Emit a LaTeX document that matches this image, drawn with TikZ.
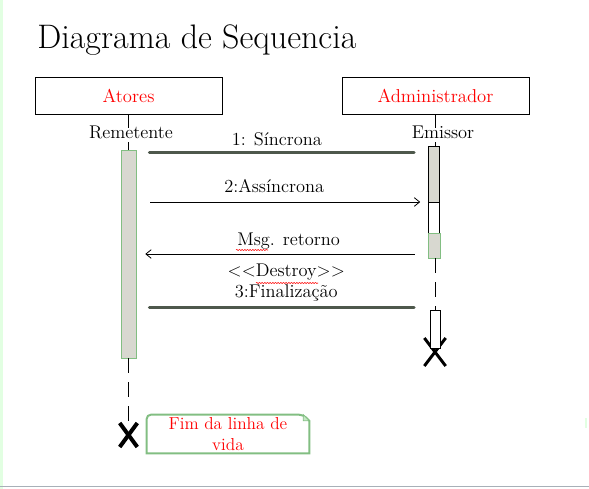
\documentclass[tikz,border=0pt]{standalone}
\usetikzlibrary{arrows.meta}
\usetikzlibrary{decorations.pathmorphing}

\definecolor{cinzaativ}{RGB}{216,216,208}
\definecolor{verdeborda}{RGB}{130,190,130}
\definecolor{linhaforte}{RGB}{78,88,76}
\definecolor{verdeclaro}{RGB}{226,255,226}
\definecolor{verdedobra}{RGB}{196,232,196}
\definecolor{cinzabase}{RGB}{168,176,184}

\begin{document}
\begin{tikzpicture}[>={Straight Barb[length=4pt,width=6.5pt]},x=0.75pt,y=-0.75pt,
    ator/.style={draw,line width=0.6pt,minimum width=140.25pt,minimum height=27.75pt,text=red,font=\fontsize{14}{16}\selectfont},
    rotulo/.style={text=black,font=\fontsize{13.8}{15.5}\selectfont},
    ativ/.style={draw,fill=cinzaativ,inner sep=0pt},
    vazio/.style={draw,fill=white,inner sep=0pt},
    vida/.style={dash pattern=on 10pt off 11pt},
    vidab/.style={dash pattern=on 11pt off 7pt},
    sinc/.style={linhaforte,line width=2.25pt,line cap=round},
    msg/.style={line width=0.6pt},
    ondas/.style={red,line width=0.4pt,decorate,decoration={snake,amplitude=0.45pt,segment length=2pt}}]
    \useasboundingbox (0,0) rectangle (589,489);
    \fill[verdeclaro] (0,0) rectangle (3,489);
    \fill[verdeclaro] (585,418) rectangle (587,428);
    \fill[cinzabase] (0,485.5) rectangle (589,487);
    \node[anchor=base west,inner sep=0pt,font=\fontsize{25.5}{30}\selectfont] (titulo) at (37,48) {Diagrama de Sequencia};
    % atores
    \node[ator] (atores) at (128.5,95.5) {Atores};
    \node[ator] (admin) at (435.5,95.5) {Administrador};
    \node[rotulo] (remetente) at (131,132) {Remetente};
    \node[rotulo] (emissor) at (443,132) {Emissor};
    % ativacoes
    \node[ativ,draw=verdeborda,minimum width=11.25pt,minimum height=156pt] (remat) at (128.5,254) {};
    \node[ativ,minimum width=8.25pt,minimum height=42pt] (ematA) at (434,174) {};
    \node[vazio,minimum width=8.25pt,minimum height=23.25pt] (ematB) at (434,217.5) {};
    \node[ativ,draw=verdeborda,minimum width=9pt,minimum height=18.75pt] (ematC) at (434,245.5) {};
    % fim da linha de vida
    \coordinate (xE) at (435,352);
    \draw[line width=2.2pt] ([xshift=-8pt,yshift=10.5pt]xE) -- ([xshift=8pt,yshift=-10.5pt]xE);
    \draw[line width=2.2pt] ([xshift=8pt,yshift=10.5pt]xE) -- ([xshift=-8pt,yshift=-10.5pt]xE);
    \node[vazio,minimum width=7.5pt,minimum height=28.5pt] (emfim) at (435,329) {};
    \coordinate (xR) at (128.5,435);
    \draw[line width=3pt] ([xshift=-6.6pt,yshift=9pt]xR) -- ([xshift=6.6pt,yshift=-9pt]xR);
    \draw[line width=3pt] ([xshift=6.6pt,yshift=9pt]xR) -- ([xshift=-6.6pt,yshift=-9pt]xR);
    % linhas de vida
    \draw[vida] (atores.south) -- (remat.north);
    \draw[vida] (admin.south) -- (admin.south |- ematA.north);
    \draw[vidab] (remat.south) -- ([yshift=9pt]xR);
    \draw[vidab] (ematC.south -| emfim.north) -- (emfim.north);
    % mensagens
    \coordinate (m1) at (0,152);
    \coordinate (m2) at (0,202);
    \coordinate (m3) at (0,254);
    \coordinate (m4) at (0,307);
    \draw[sinc,shorten <=9.75pt,shorten >=10.5pt] (remat.east |- m1) -- (ematA.west |- m1)
        node[rotulo,midway,above,xshift=-4pt] (lbl1) {1: Síncrona};
    \draw[msg,->,shorten <=10.5pt,shorten >=6pt] (remat.east |- m2) -- (ematA.west |- m2)
        node[rotulo,midway,above,yshift=3pt,xshift=-6pt] (lbl2) {2:Assíncrona};
    \draw[msg,->,shorten <=9.75pt,shorten >=6.75pt] (ematC.west |- m3) -- (remat.east |- m3)
        node[rotulo,midway,above,xshift=5pt] (lbl3) {Msg. retorno};
    \draw[sinc,shorten <=9.75pt,shorten >=10.5pt] (remat.east |- m4) -- (ematA.west |- m4)
        node[rotulo,midway,above,align=center,xshift=3pt] (lbl4) {\textless\kern0pt\textless\kern0pt Destroy\kern0pt\textgreater\kern0pt\textgreater\\3:Finalização};
    \draw[ondas] (236,250) -- (268,250);
    \draw[ondas] (256,283) -- (318,283);
    % nota
    \node[align=center,text=red,inner sep=0pt,minimum width=121.5pt,minimum height=28.5pt,
        font=\fontsize{13}{15.5}\selectfont] (nota) at (228,434) {Fim da linha de\\vida};
    \draw[verdeborda,line width=1.5pt] (nota.south west) [rounded corners=3pt] -- (nota.north west)
        -- ([xshift=-4.5pt]nota.north east) [sharp corners] -- ([yshift=-4.5pt]nota.north east)
        -- (nota.south east) -- cycle;
    \filldraw[verdeborda,fill=verdedobra,line width=0.5pt] ([xshift=-4.5pt]nota.north east)
        -- ([yshift=-4.5pt]nota.north east) -- ([xshift=-4.5pt,yshift=-4.5pt]nota.north east) -- cycle;
\end{tikzpicture}
\end{document}
